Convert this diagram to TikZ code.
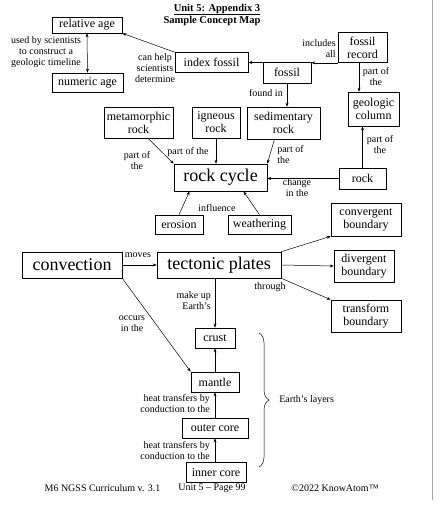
\documentclass[tikz,border=0pt]{standalone}
\usepackage{fontspec}
\setmainfont{Liberation Serif}
\usetikzlibrary{arrows.meta,decorations.pathreplacing}

\tikzset{
    box/.style={draw, line width=0.6pt, inner sep=1pt, align=center, font=\fontsize{12}{13}\selectfont},
    bigbox/.style={box, font=\fontsize{18}{20}\selectfont},
    lbl/.style={inner sep=0pt, align=center, font=\fontsize{10}{11}\selectfont},
}

\begin{document}
\begin{tikzpicture}[x=1pt, y=-1pt, >={Stealth[length=4pt,width=3pt]}, line width=0.5pt]
    \useasboundingbox (0,0) rectangle (442,508);
    % Titolo
    \node[font=\fontsize{10.5}{11}\selectfont\bfseries] (title) at (217,9.5) {\underline{Unit 5: Appendix 3}};
    \node[font=\fontsize{10.5}{11}\selectfont\bfseries] (subtitle) at (212,21) {Sample Concept Map};
    % Fossili ed eta
    \node[box, minimum width=70pt, minimum height=16pt] (relage) at (87,25) {relative age};
    \node[box, minimum width=71pt, minimum height=19pt] (numage) at (87.5,82.5) {numeric age};
    \node[box, minimum width=73pt, minimum height=20pt] (idxfossil) at (211.5,62.5) {index fossil};
    \node[box, minimum width=48pt, minimum height=21pt] (fossil) at (287,72.5) {fossil};
    \node[box, minimum width=49pt, minimum height=30pt] (fossilrec) at (362.5,47.5) {fossil\\record};
    \node[box, minimum width=51pt, minimum height=34pt] (geocol) at (373.5,109) {geologic\\column};
    % Rocce
    \node[box, minimum width=69pt, minimum height=31pt] (meta) at (138.5,122.5) {metamorphic\\rock};
    \node[box, minimum width=48pt, minimum height=31pt] (igneous) at (216,122.5) {igneous\\rock};
    \node[box, minimum width=73pt, minimum height=32pt] (sedi) at (283.5,123) {sedimentary\\rock};
    \node[bigbox, minimum width=93pt, minimum height=27pt] (rockcycle) at (220.5,177.5) {rock cycle};
    \node[box, minimum width=47pt, minimum height=21pt] (rock) at (362.5,178.5) {rock};
    \node[box, minimum width=48pt, minimum height=19pt] (erosion) at (179,224.5) {erosion};
    \node[box, minimum width=63pt, minimum height=19pt] (weather) at (259.5,224.5) {weathering};
    % Placche
    \node[bigbox, minimum width=100pt, minimum height=26pt] (convection) at (72,265) {convection};
    \node[bigbox, minimum width=124pt, minimum height=26pt] (tectonic) at (219,265) {tectonic plates};
    \node[box, minimum width=70pt, minimum height=33pt] (converg) at (366,219.5) {convergent\\boundary};
    \node[box, minimum width=60pt, minimum height=32pt] (diverg) at (364,266) {divergent\\boundary};
    \node[box, minimum width=70pt, minimum height=32pt] (transf) at (366,316) {transform\\boundary};
    % Strati della Terra
    \node[box, minimum width=40pt, minimum height=20pt] (crust) at (215,338) {crust};
    \node[box, minimum width=48pt, minimum height=20pt] (mantle) at (215,382) {mantle};
    \node[box, minimum width=66pt, minimum height=20pt] (outer) at (215,428) {outer core};
    \node[box, minimum width=60pt, minimum height=20pt] (inner) at (216,472.5) {inner core};

    % Frecce in alto
    \draw[<->] (relage.south) -- (numage.north);
    \node[lbl] (l1) at (46,52.5) {used by scientists\\to construct a\\geologic timeline};
    \draw[->] (idxfossil.north west) -- (relage.south east);
    \node[lbl] (l2) at (155,68) {can help\\scientists\\determine};
    \draw[->] (fossil.west |- idxfossil.east) -- (idxfossil.east);
    \draw[->] (fossilrec.south west) -- (fossilrec.south west -| fossil.east);
    \node[lbl, anchor=east, align=right] (l3) at (336,48.5) {includes\\all};
    \draw[->] (359,0 |- fossilrec.south) -- (359,0 |- geocol.north);
    \node[lbl] (l4) at (376,77) {part of\\the};
    \draw[->] (fossil.south) -- (fossil.south |- sedi.north);
    \node[lbl, anchor=east] (l5) at (283,93) {found in};
    % Ciclo delle rocce
    \draw[->] (meta.-59) -- (rockcycle.north west);
    \node[lbl] (l6) at (137,160.5) {part of\\the};
    \draw[->] (igneous.south) -- (igneous.south |- rockcycle.north);
    \node[lbl] (l7) at (188,152) {part of the};
    \draw[->] (sedi.-119) -- (rockcycle.north east);
    \node[lbl, anchor=west, align=left] (l8) at (277,155) {part of\\the};
    \draw[->] (rock.north) -- (rock.north |- geocol.south);
    \node[lbl] (l9) at (380,144.5) {part of\\the};
    \draw[->] (rock.west) -- (rock.west -| rockcycle.east);
    \node[lbl] (l10) at (297,188) {change\\in the};
    \draw[->] (erosion.north) -- (rockcycle.-156);
    \draw[->] (weather.north) -- (rockcycle.-31);
    \node[lbl] (l11) at (217,208) {influence};
    % Tettonica
    \draw[->] (convection.east) -- (tectonic.west);
    \node[lbl] (l12) at (138,255) {moves};
    \draw[->] (tectonic.north east) -- (converg.south west);
    \draw[->] (tectonic.east) -- (diverg.west);
    \draw[->] (tectonic.south east) -- (transf.north west);
    \node[lbl] (l13) at (270,287) {through};
    \draw[->] (tectonic.south -| crust.north) -- (crust.north);
    \node[lbl, anchor=east, align=right] (l14) at (211,300.5) {make up\\Earth's};
    \draw[->] (convection.south east) -- (mantle.north west);
    \node[lbl] (l15) at (132,324) {occurs\\in the};
    % Conduzione
    \draw[->] (mantle.north) -- (crust.south);
    \draw[->] (outer.north) -- (mantle.south);
    \node[lbl, anchor=east, align=right] (l16) at (210,404) {heat transfers by\\conduction to the};
    \draw[->] (inner.north -| outer.north) -- (outer.south);
    \node[lbl, anchor=east, align=right] (l17) at (210,450.5) {heat transfers by\\conduction to the};
    % Parentesi graffa
    \draw[decorate, decoration={brace, amplitude=10pt}] (259,333) -- (259,467);
    \node[lbl, anchor=west] (layers) at (279,400) {Earth's layers};
    % Bordo e pie di pagina
    \draw[gray!70, line width=0.6pt] (432,0) -- (432,500);
    \node[lbl] (foot1) at (102.5,488) {M6 NGSS Curriculum v. 3.1};
    \node[lbl] (foot2) at (212,488) {Unit 5 – Page 99};
    \node[lbl] (foot3) at (335,488) {©2022 KnowAtom™};
\end{tikzpicture}
\end{document}
